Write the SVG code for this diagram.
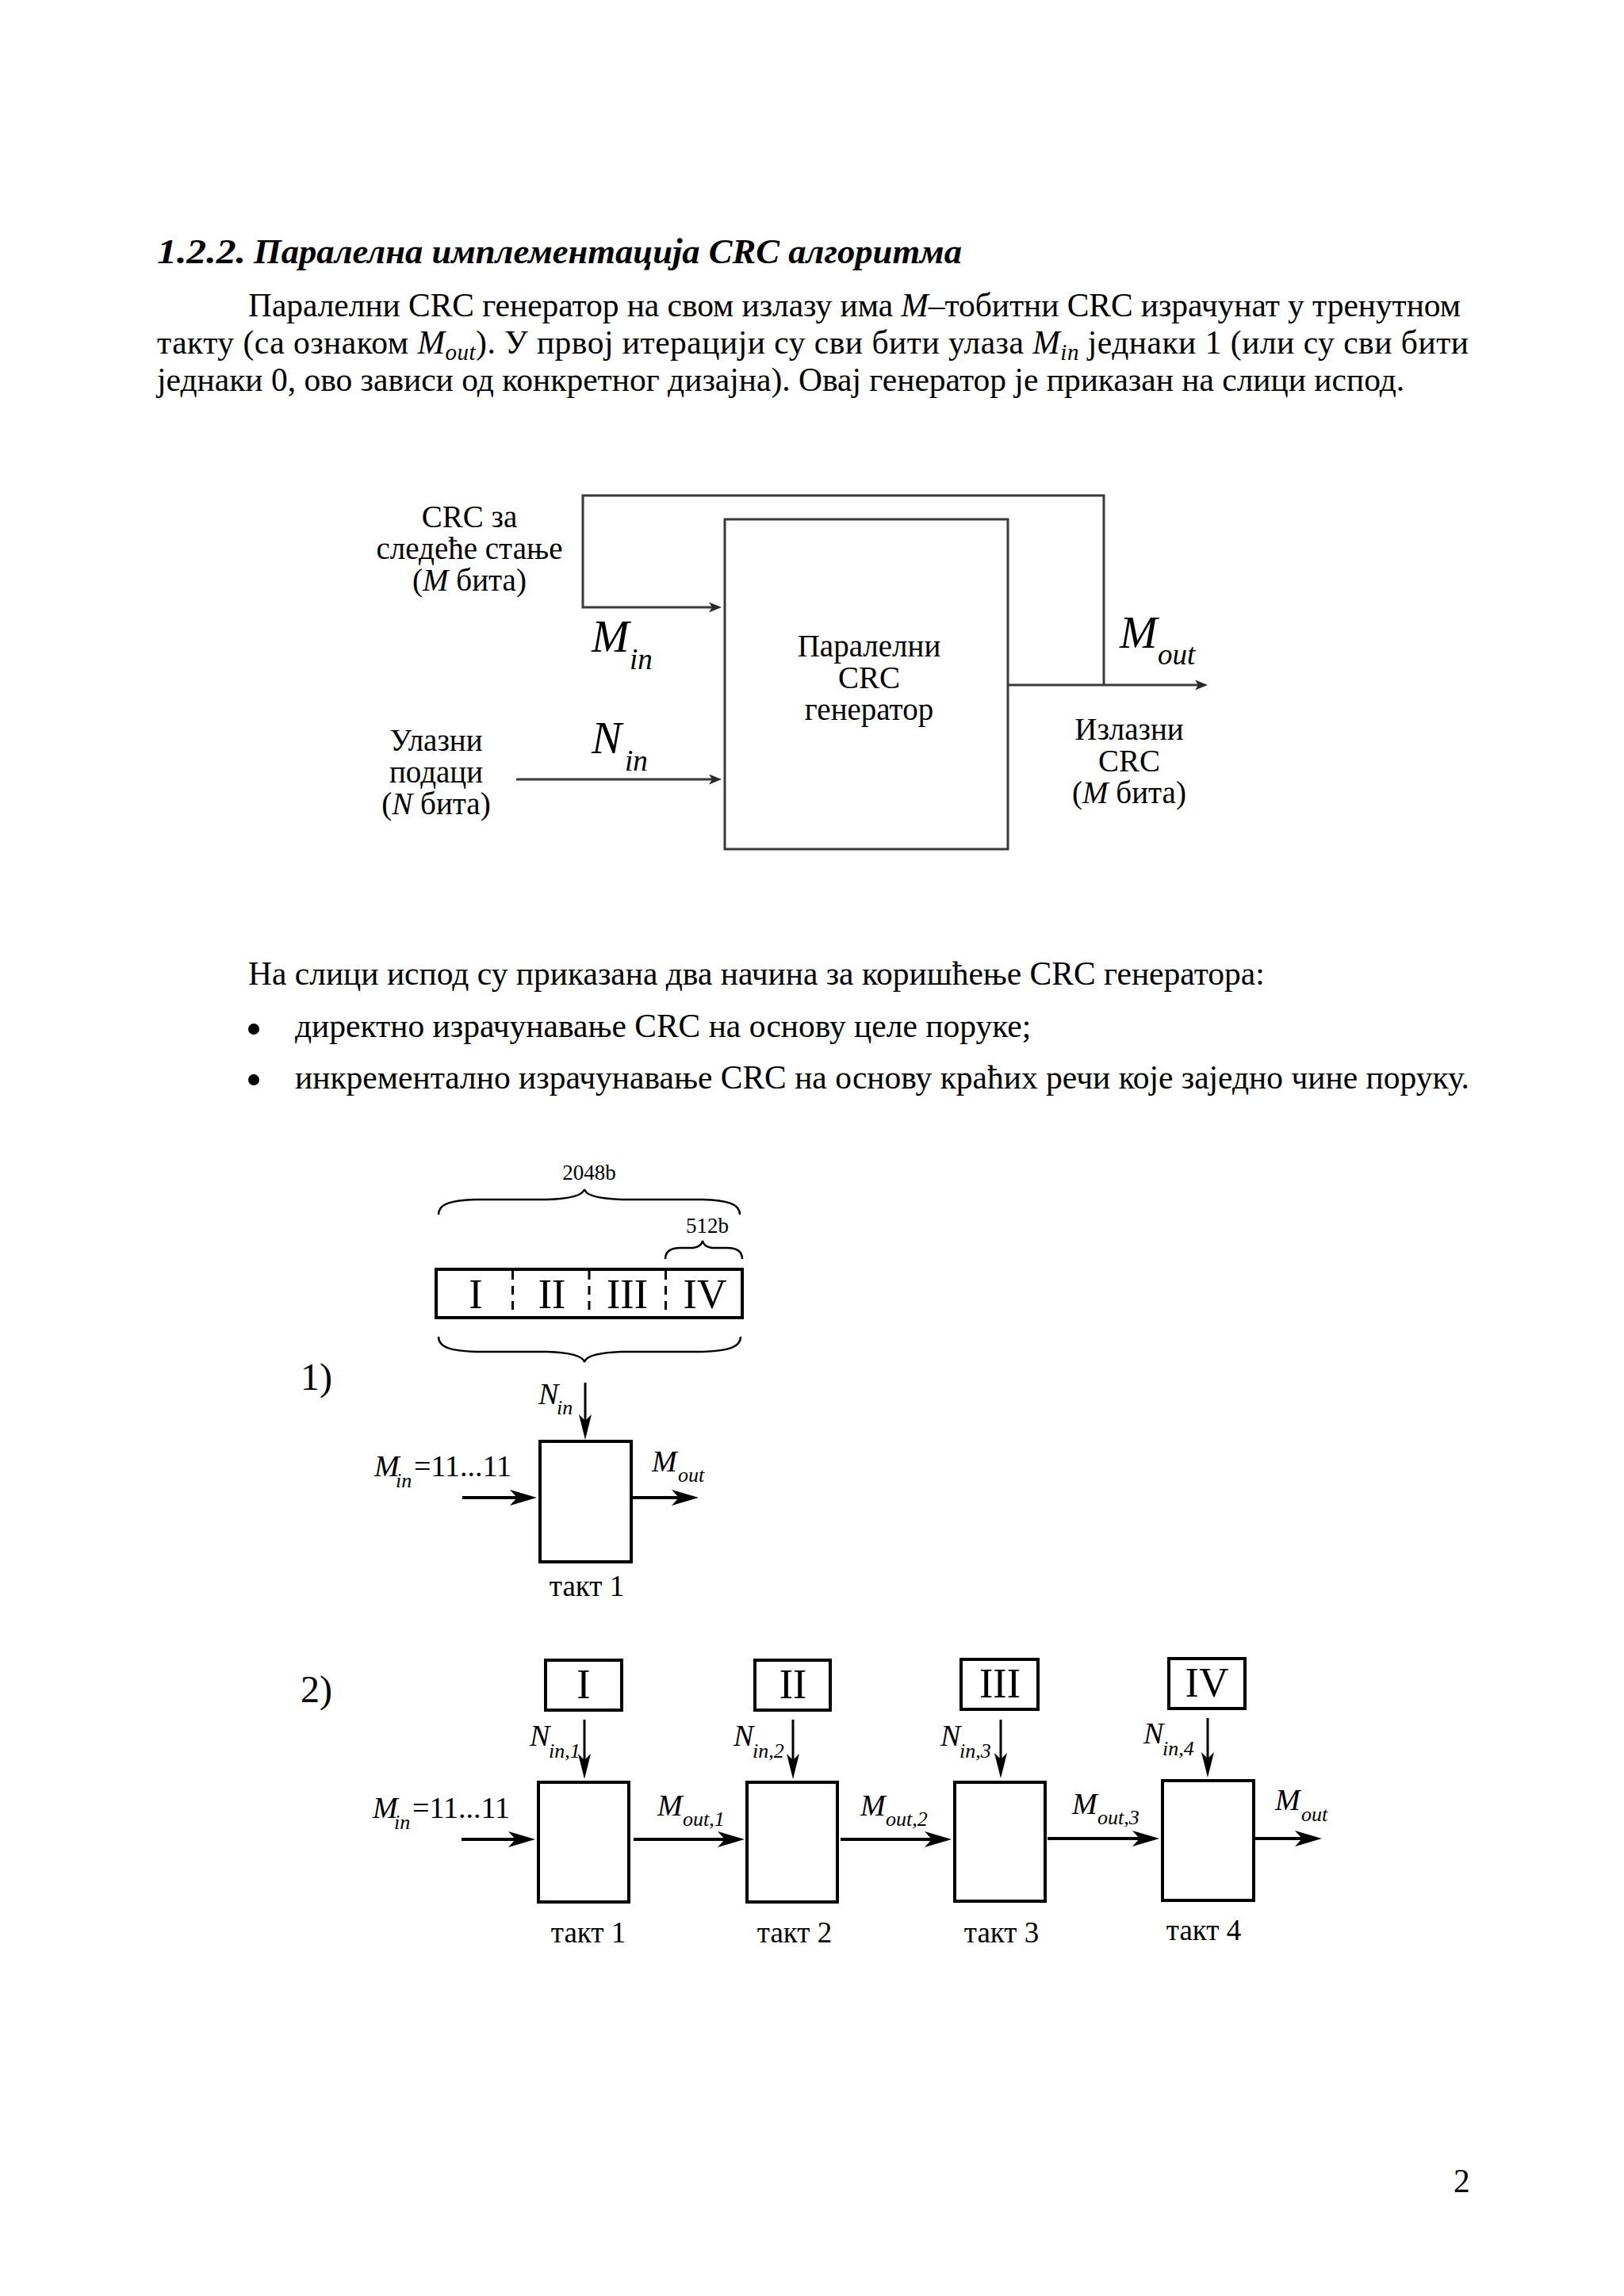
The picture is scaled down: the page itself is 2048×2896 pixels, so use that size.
<svg xmlns="http://www.w3.org/2000/svg" width="2048" height="2896" viewBox="0 0 2048 2896">
<defs>
<style>
text{font-family:"Liberation Serif","Times New Roman",serif;fill:#000}
.body{font-size:41.5px}
.head{font-size:44px;font-weight:bold;font-style:italic}
.it{font-style:italic}
.d1c{font-size:39px;text-anchor:middle}
.bigM{font-size:57px;font-style:italic}
.bigS{font-size:37px;font-style:italic}
.lab{font-size:38px}
.labM{font-size:38px;font-style:italic}
.labS{font-size:26px;font-style:italic}
.num{font-size:52px;text-anchor:middle}
.sm{font-size:27px;text-anchor:middle}
.takt{font-size:37px;text-anchor:middle}
.ln1{stroke:#3a3a3a;stroke-width:3;fill:none}
.ln{stroke:#000;stroke-width:4;fill:none}
.lnv{stroke:#000;stroke-width:3;fill:none}
.box{stroke:#000;stroke-width:4;fill:#fff}
.box1{stroke:#3a3a3a;stroke-width:3;fill:#fff}
.brace{stroke:#000;stroke-width:2.5;fill:none}
.dash{stroke:#000;stroke-width:3;stroke-dasharray:11 8}
</style>
<marker id="aS" markerUnits="userSpaceOnUse" markerWidth="18" markerHeight="14" refX="10" refY="6.5" orient="auto">
<path d="M0,0 L16,6.5 L0,13 L4,6.5 Z" fill="#2a2a2a"/>
</marker>
<marker id="aB" markerUnits="userSpaceOnUse" markerWidth="36" markerHeight="22" refX="19" refY="10" orient="auto">
<path d="M0,0 L34,10 L0,20 L9,10 Z" fill="#000"/>
</marker>
<marker id="aV" markerUnits="userSpaceOnUse" markerWidth="34" markerHeight="18" refX="18" refY="8" orient="auto">
<path d="M0,0 L32,8 L0,16 L8,8 Z" fill="#000"/>
</marker>
</defs>
<rect x="0" y="0" width="2048" height="2896" fill="#fff"/>

<!-- Heading and paragraph -->
<g id="heading">
<text class="head" x="198" y="332" textLength="112" lengthAdjust="spacingAndGlyphs">1.2.2.</text>
<text class="head" x="320" y="332" textLength="893" lengthAdjust="spacingAndGlyphs">Паралелна имплементација CRC алгоритма</text>
</g>
<g id="paragraph">
<text class="body" x="313" y="399" textLength="1529" lengthAdjust="spacing">Паралелни CRC генератор на свом излазу има <tspan class="it">M</tspan>–тобитни CRC израчунат у тренутном</text>
<text class="body" x="198" y="446" textLength="1654" lengthAdjust="spacing">такту (са ознаком <tspan class="it">M</tspan><tspan class="it" font-size="29" dy="8">out</tspan><tspan dy="-8">). У првој итерацији су сви бити улаза </tspan><tspan class="it">M</tspan><tspan class="it" font-size="29" dy="8">in</tspan><tspan dy="-8"> једнаки 1 (или су сви бити</tspan></text>
<text class="body" x="198" y="493">једнаки 0, ово зависи од конкретног дизајна). Овај генератор је приказан на слици испод.</text>
</g>

<!-- Diagram 1 -->
<g id="connectors1">
<polyline class="ln1" points="1392,864 1392,625 735,625 735,766 904,766" marker-end="url(#aS)"/>
<line class="ln1" x1="651" y1="983" x2="904" y2="983" marker-end="url(#aS)"/>
<line class="ln1" x1="1271" y1="864" x2="1517" y2="864" marker-end="url(#aS)"/>
</g>
<g id="generator">
<rect class="box1" x="914" y="655" width="357" height="416"/>
<text class="d1c" x="1096" y="828">Паралелни</text>
<text class="d1c" x="1096" y="868">CRC</text>
<text class="d1c" x="1096" y="908">генератор</text>
</g>
<g id="label-crc-next">
<text class="d1c" x="592" y="665">CRC за</text>
<text class="d1c" x="592" y="705">следеће стање</text>
<text class="d1c" x="592" y="745">(<tspan class="it">M</tspan> бита)</text>
</g>
<g id="label-min">
<text class="bigM" x="746" y="822">M</text>
<text class="bigS" x="794" y="844">in</text>
</g>
<g id="label-nin">
<text class="bigM" x="746" y="950">N</text>
<text class="bigS" x="788" y="972">in</text>
</g>
<g id="label-mout">
<text class="bigM" x="1412" y="817">M</text>
<text class="bigS" x="1460" y="838">out</text>
</g>
<g id="label-input">
<text class="d1c" x="550" y="947">Улазни</text>
<text class="d1c" x="550" y="987">подаци</text>
<text class="d1c" x="550" y="1027">(<tspan class="it">N</tspan> бита)</text>
</g>
<g id="label-output">
<text class="d1c" x="1424" y="933">Излазни</text>
<text class="d1c" x="1424" y="973">CRC</text>
<text class="d1c" x="1424" y="1013">(<tspan class="it">M</tspan> бита)</text>
</g>

<!-- Text between diagrams -->
<g id="list">
<text class="body" x="313" y="1242">На слици испод су приказана два начина за коришћење CRC генератора:</text>
<circle cx="320" cy="1298" r="7" fill="#000"/>
<text class="body" x="372" y="1308">директно израчунавање CRC на основу целе поруке;</text>
<circle cx="320" cy="1362" r="7" fill="#000"/>
<text class="body" x="372" y="1373">инкрементално израчунавање CRC на основу краћих речи које заједно чине поруку.</text>
</g>

<!-- Diagram 2, part 1 -->
<g id="message">
<path class="brace" d="M553,1532 C553,1518 570,1514 600,1513 L690,1513 C720,1512 735,1508 737,1500 C739,1508 754,1512 784,1513 L886,1513 C916,1514 933,1518 933,1532"/>
<text class="sm" x="743" y="1488">2048b</text>
<path class="brace" d="M839,1588 C839,1578 846,1574 858,1574 L874,1574 C882,1573 885,1570 886,1565 C887,1570 890,1573 898,1574 L917,1574 C929,1574 936,1578 936,1588"/>
<text class="sm" x="892" y="1555">512b</text>
<rect class="box" x="550" y="1601" width="386" height="61"/>
<line class="dash" x1="646.5" y1="1603" x2="646.5" y2="1660"/>
<line class="dash" x1="743" y1="1603" x2="743" y2="1660"/>
<line class="dash" x1="839.5" y1="1603" x2="839.5" y2="1660"/>
<text class="num" x="600" y="1650">I</text>
<text class="num" x="696" y="1650">II</text>
<text class="num" x="791" y="1650">III</text>
<text class="num" x="889" y="1650">IV</text>
<path class="brace" d="M553,1686 C553,1700 570,1704 600,1705 L690,1705 C720,1706 735,1710 737,1718 C739,1710 754,1706 784,1705 L886,1705 C916,1704 934,1700 934,1686"/>
</g>
<text x="379" y="1753" font-size="48">1)</text>
<g id="connectors2">
<line class="lnv" x1="738" y1="1744" x2="738" y2="1802" marker-end="url(#aV)"/>
<line class="ln" x1="583" y1="1889" x2="662" y2="1889" marker-end="url(#aB)"/>
<line class="ln" x1="798" y1="1889" x2="866" y2="1889" marker-end="url(#aB)"/>
</g>
<g id="block-1">
<rect class="box" x="681" y="1818" width="115" height="152"/>
<text class="takt" x="740" y="2013">такт 1</text>
</g>
<g id="labels-1">
<text class="labM" x="679" y="1771">N</text><text class="labS" x="702" y="1784">in</text>
<text class="labM" x="472" y="1862">M</text><text class="labS" x="499" y="1876">in</text><text class="lab" x="522" y="1862">=11...11</text>
<text class="labM" x="822" y="1856">M</text><text class="labS" x="855" y="1869">out</text>
</g>

<!-- Diagram 2, part 2 -->
<text x="379" y="2147" font-size="48">2)</text>
<g id="word-I"><rect class="box" x="688" y="2094" width="96" height="63"/><text class="num" x="736" y="2142">I</text></g>
<g id="word-II"><rect class="box" x="952" y="2094" width="95" height="63"/><text class="num" x="1000" y="2142">II</text></g>
<g id="word-III"><rect class="box" x="1212" y="2093" width="97" height="63"/><text class="num" x="1261" y="2141">III</text></g>
<g id="word-IV"><rect class="box" x="1474" y="2092" width="96" height="63"/><text class="num" x="1522" y="2140">IV</text></g>
<g id="connectors3">
<line class="lnv" x1="737" y1="2169" x2="737" y2="2230" marker-end="url(#aV)"/>
<line class="lnv" x1="1000" y1="2169" x2="1000" y2="2230" marker-end="url(#aV)"/>
<line class="lnv" x1="1262" y1="2169" x2="1262" y2="2229" marker-end="url(#aV)"/>
<line class="lnv" x1="1523" y1="2167" x2="1523" y2="2228" marker-end="url(#aV)"/>
<line class="ln" x1="582" y1="2320" x2="660" y2="2320" marker-end="url(#aB)"/>
<line class="ln" x1="799" y1="2320" x2="924" y2="2320" marker-end="url(#aB)"/>
<line class="ln" x1="1060" y1="2320" x2="1185" y2="2320" marker-end="url(#aB)"/>
<line class="ln" x1="1321" y1="2319" x2="1447" y2="2319" marker-end="url(#aB)"/>
<line class="ln" x1="1583" y1="2319" x2="1652" y2="2319" marker-end="url(#aB)"/>
</g>
<g id="clock-1"><rect class="box" x="679" y="2248" width="114" height="151"/><text class="takt" x="742" y="2450">такт 1</text></g>
<g id="clock-2"><rect class="box" x="942" y="2248" width="114" height="151"/><text class="takt" x="1002" y="2450">такт 2</text></g>
<g id="clock-3"><rect class="box" x="1204" y="2248" width="114" height="150"/><text class="takt" x="1263" y="2450">такт 3</text></g>
<g id="clock-4"><rect class="box" x="1466" y="2246" width="115" height="151"/><text class="takt" x="1518" y="2447">такт 4</text></g>
<g id="labels-2">
<text class="labM" x="668" y="2202">N</text><text class="labS" x="692" y="2217">in,1</text>
<text class="labM" x="925" y="2202">N</text><text class="labS" x="949" y="2217">in,2</text>
<text class="labM" x="1186" y="2202">N</text><text class="labS" x="1210" y="2217">in,3</text>
<text class="labM" x="1442" y="2199">N</text><text class="labS" x="1466" y="2214">in,4</text>
<text class="labM" x="470" y="2293">M</text><text class="labS" x="497" y="2307">in</text><text class="lab" x="520" y="2293">=11...11</text>
<text class="labM" x="829" y="2290">M</text><text class="labS" x="861" y="2303">out,1</text>
<text class="labM" x="1085" y="2290">M</text><text class="labS" x="1117" y="2303">out,2</text>
<text class="labM" x="1352" y="2288">M</text><text class="labS" x="1384" y="2301">out,3</text>
<text class="labM" x="1608" y="2283">M</text><text class="labS" x="1641" y="2297">out</text>
</g>

<text class="body" x="1833" y="2765">2</text>
</svg>
